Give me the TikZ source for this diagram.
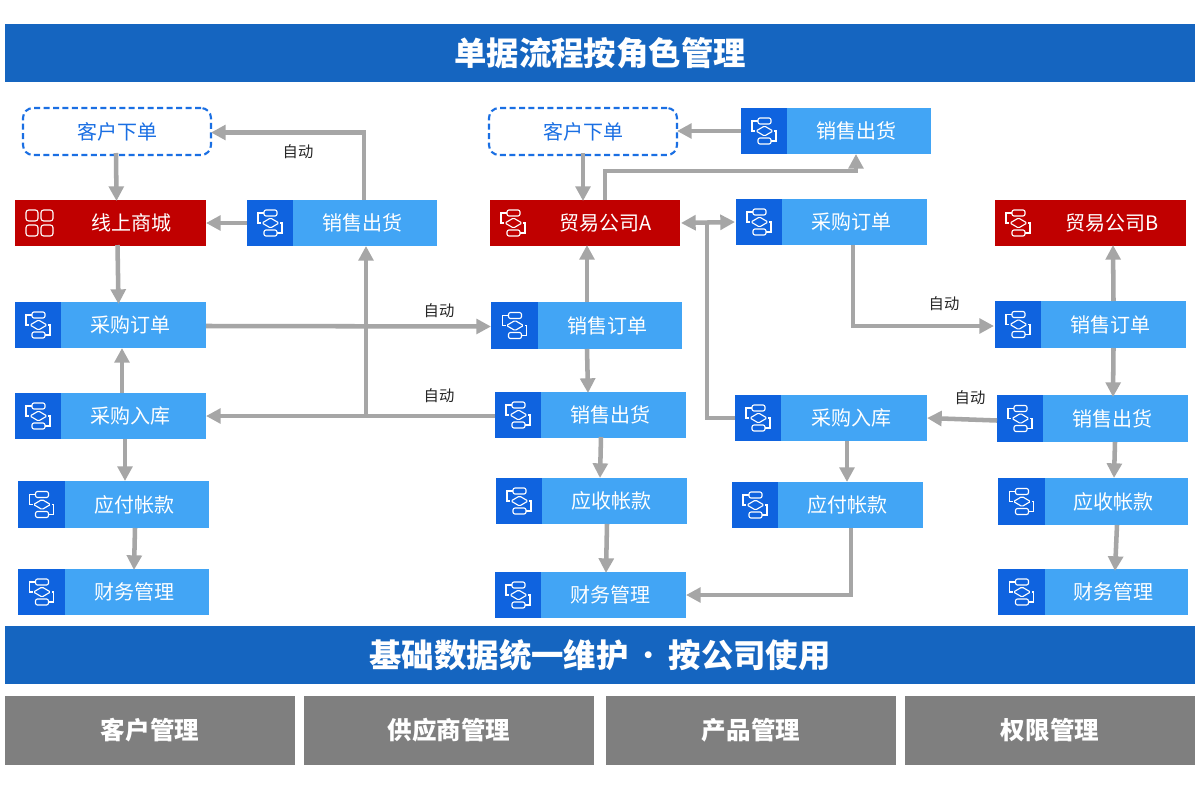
\documentclass[tikz,border=0pt]{standalone}
\usepackage{fontspec}
\setmainfont{Noto Sans CJK SC}
\usetikzlibrary{arrows.meta,calc}
\newdimen\px \px=0.75pt
\definecolor{barblue}{HTML}{1565C0}
\definecolor{iconblue}{HTML}{0F63DF}
\definecolor{lightblue}{HTML}{42A5F5}
\definecolor{dashblue}{HTML}{1A6FE3}
\definecolor{redbox}{HTML}{C00000}
\definecolor{greybox}{HTML}{7F7F7F}
\definecolor{linkgrey}{HTML}{A6A6A6}
\newcommand{\rectnode}[7]{% style, name, x1, y1, x2, y2, text
  \pgfmathsetmacro{\rw}{#5-#3}\pgfmathsetmacro{\rh}{#6-#4}
  \node[#1,minimum width=\rw*\px,minimum height=\rh*\px] (#2) at ({(#3+#5)/2},{(#4+#6)/2}) {#7};}
\newcommand{\flowbox}[6]{% name, x0, x1, x2, y1, y2 ... text in next
  \rectnode{iconbg}{#1I}{#2}{#5}{#3}{#6}{}
  \pic at (#1I) {flowicon};
  \flowtext{#1}{#3}{#4}{#5}{#6}}
\newcommand{\flowtext}[6]{\rectnode{lightbg}{#1}{#2}{#4}{#3}{#5}{\hspace*{-6\px}#6}}
\newcommand{\redbox}[7]{% name, x0, x1, x2, y1, y2, text
  \rectnode{redbg}{#1B}{#2}{#5}{#4}{#6}{}
  \rectnode{redtx}{#1}{#3}{#5}{#4}{#6}{\hspace*{-4\px}#7}}
\tikzset{
  x=0.75pt,y=-0.75pt,
  barbg/.style={fill=barblue,text=white,inner sep=0pt,outer sep=0pt,font=\fontsize{24.3}{30}\selectfont\bfseries},
  greybg/.style={fill=greybox,text=white,inner sep=0pt,outer sep=0pt,font=\fontsize{18.4}{22}\selectfont\bfseries},
  iconbg/.style={fill=iconblue,inner sep=0pt,outer sep=0pt},
  lightbg/.style={fill=lightblue,text=white,inner sep=0pt,outer sep=0pt,font=\fontsize{15}{18}\selectfont},
  redbg/.style={fill=redbox,inner sep=0pt,outer sep=0pt},
  redtx/.style={text=white,inner sep=0pt,outer sep=0pt,font=\fontsize{15}{18}\selectfont},
  dashbg/.style={draw=dashblue,line width=1.6pt,dash pattern=on 4.5pt off 2.6pt,rounded corners=7.5pt,text=dashblue,inner sep=0pt,outer sep=0pt,font=\fontsize{15}{18}\selectfont},
  autolabel/.style={inner sep=0pt,text=black!85,font=\fontsize{11.5}{14}\selectfont},
  link/.style={draw=linkgrey,line width=3.4pt,-{Triangle[length=11pt,width=11pt]}},
  twolink/.style={draw=linkgrey,line width=3.4pt,{Triangle[length=11pt,width=11pt]}-{Triangle[length=11pt,width=11pt]}},
  plainlink/.style={draw=linkgrey,line width=3.4pt},
  flowicon/.pic={
    \begin{scope}[draw=white,line width=0.85pt]
      \draw[rounded corners=1.5pt] (-6,-13) rectangle (7,-7);
      \draw[rounded corners=1.5pt] (-6,7) rectangle (7,13);
      \draw[rounded corners=1pt] (-8,0) -- (0.5,-5) -- (9,0) -- (0.5,5) -- cycle;
      \draw (-6,-10) -- (-12,-10) -- (-12,0) -- (-9,0);
      \draw (7,10) -- (12,10) -- (12,0) -- (10,0);
    \end{scope}
  },
  gridicon/.pic={
    \begin{scope}[draw=white,line width=0.85pt,rounded corners=2pt]
      \draw (-13,-13) rectangle (-1,-2);
      \draw (2,-13) rectangle (14,-2);
      \draw (-13,2) rectangle (-1,13);
      \draw (2,2) rectangle (14,13);
    \end{scope}
  },
}
\begin{document}
\begin{tikzpicture}
\useasboundingbox (0,0) rectangle (1200,786);
\fill[white] (0,0) rectangle (1200,786);
% bars
\rectnode{barbg}{title}{5}{24}{1195}{82}{\raisebox{-2\px}{单据流程按角色管理}}
\rectnode{barbg}{base}{5}{626}{1195}{684}{\raisebox{-1\px}{基础数据统一维护\makebox[40\px]{\mdseries·}按公司使用}}
\rectnode{greybg}{g1}{5}{696}{295}{765}{\raisebox{1\px}{客户管理}}
\rectnode{greybg}{g2}{304}{696}{594}{765}{\raisebox{1\px}{供应商管理}}
\rectnode{greybg}{g3}{606}{696}{896}{765}{\raisebox{1\px}{产品管理}}
\rectnode{greybg}{g4}{905}{696}{1195}{765}{\raisebox{1\px}{权限管理}}
% left
\rectnode{dashbg}{ca}{23}{108}{211}{155}{客户下单}
\redbox{shop}{15}{61}{206}{200}{246}{线上商城}
\pic at (39,223) {gridicon};
\flowbox{sa}{247}{293}{437}{200}{246}{销售出货}
\flowbox{pa}{15}{61}{206}{302}{348}{采购订单}
\flowbox{ra}{15}{61}{206}{393}{439}{采购入库}
\flowbox{fa}{18}{65}{209}{481}{528}{应付帐款}
\flowbox{ma}{18}{65}{209}{569}{615}{财务管理}
% middle
\rectnode{dashbg}{cb}{489}{108}{677}{155}{客户下单}
\flowbox{sb}{741}{787}{931}{108}{154}{销售出货}
\redbox{ta}{490}{536}{680}{200}{246}{贸易公司A}
\pic at (513,223) {flowicon};
\flowbox{pb}{736}{782}{927}{199}{245}{采购订单}
\flowbox{oc}{491}{538}{682}{302}{349}{销售订单}
\flowbox{sc}{495}{541}{686}{392}{438}{销售出货}
\flowbox{ac}{496}{542}{687}{478}{524}{应收帐款}
\flowbox{mc}{495}{541}{686}{572}{618}{财务管理}
\flowbox{rb}{735}{781}{927}{395}{441}{采购入库}
\flowbox{fb}{732}{778}{923}{482}{528}{应付帐款}
% right
\redbox{tb}{995}{1042}{1186}{200}{246}{贸易公司B}
\pic at (1018,223) {flowicon};
\flowbox{od}{995}{1041}{1186}{301}{348}{销售订单}
\flowbox{sd}{997}{1043}{1188}{395}{442}{销售出货}
\flowbox{ad}{998}{1045}{1188}{478}{525}{应收帐款}
\flowbox{md}{998}{1045}{1188}{569}{615}{财务管理}
% junctions
\coordinate (j1) at (366,414);
\coordinate (j2) at (707,224);
% labels
\node[autolabel] (l1) at (298,152) {自动};
\node[autolabel] (l2) at (439,311) {自动};
\node[autolabel] (l3) at (439,396) {自动};
\node[autolabel] (l4) at (944,304) {自动};
\node[autolabel] (l5) at (970,398) {自动};
% links left
\draw[link] ([xshift=-1\px,yshift=2\px]ca.south) -- ([xshift=6\px,yshift=-1\px]shopB.north);
\draw[link] ([xshift=7\px,yshift=1\px]shopB.south) -- ([xshift=-15\px,yshift=-2\px]pa.north);
\draw[link] (saI.west) -- (shopB.east);
\draw[link] ([xshift=-1\px]sa.north) |- ([yshift=-1\px]ca.east);
\draw[link] ([yshift=-1\px]pa.east) -- ([yshift=-1\px]ocI.west);
\draw[link] ([xshift=-11.5\px]ra.north) -- ([xshift=-11.5\px]pa.south);
\draw[link] ([yshift=-1\px]scI.west) -- (ra.east);
\draw[link] (j1) -- (j1 |- sa.south);
\draw[link] ([xshift=-8.5\px]ra.south) -- ([xshift=-12\px]fa.north);
\draw[link] ([xshift=-2\px]fa.south) -- ([xshift=-3\px,yshift=-1\px]ma.north);
% links middle
\draw[link] (sbI.west) -- (sbI.west -| cb.east);
\draw[link] ([yshift=2\px]cb.south) -- ([xshift=-2\px,yshift=-1\px]taB.north);
\draw[link] ([xshift=20\px]taB.north) -- ++(0,-29) -| ([xshift=-3\px]sb.south);
\draw[twolink] ([xshift=1\px]taB.east) -- ([xshift=-1\px]pbI.west);
\draw[plainlink] (rbI.west) -| (j2);
\draw[link] ([xshift=-23\px]oc.north) -- ([xshift=2\px,yshift=1\px]taB.south);
\draw[link] ([xshift=-23\px]oc.south) -- ([xshift=-25.5\px,yshift=-1\px]sc.north);
\draw[link] ([xshift=-12.5\px,yshift=1\px]sc.south) -- ([xshift=-14.5\px]ac.north);
\draw[link] ([xshift=-7.5\px]ac.south) -- ([xshift=-7.5\px,yshift=-1\px]mc.north);
\draw[link] ([xshift=-1.5\px]pb.south) |- ([yshift=-1.5\px,xshift=-1\px]odI.west);
\draw[link] ([xshift=-7\px]rb.south) -- ([xshift=-3.5\px]fb.north);
\draw[link] ([xshift=0.5\px]fb.south) |- (mc.east);
% links right
\draw[link] ([yshift=-2\px]sdI.west) -- (rb.east);
\draw[link] (od.north) -- ([xshift=22.5\px,yshift=1\px]tbB.south);
\draw[link] (od.south) -- ([xshift=-2.5\px,yshift=-2\px]sd.north);
\draw[link] ([xshift=-0.5\px]sd.south) -- ([xshift=-2.5\px]ad.north);
\draw[link] ([xshift=0.5\px]ad.south) -- ([xshift=-1.5\px,yshift=-2\px]md.north);
\end{tikzpicture}
\end{document}
